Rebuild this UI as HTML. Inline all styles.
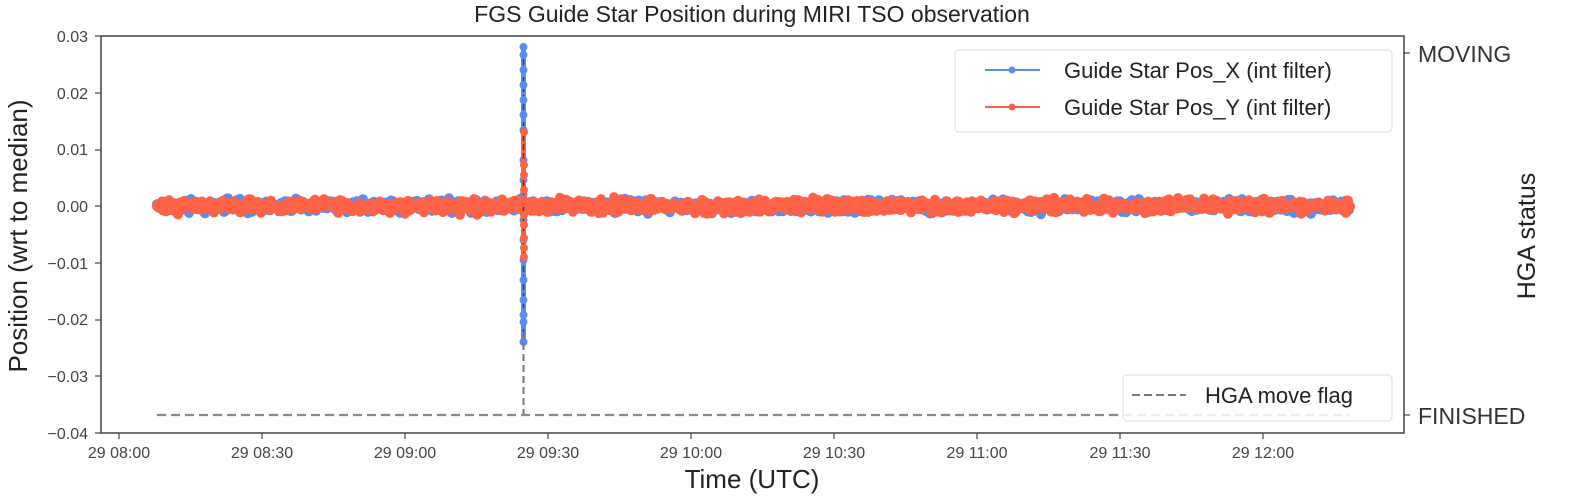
<!DOCTYPE html>
<html><head><meta charset="utf-8"><style>
html,body{margin:0;padding:0;background:#fff;}
svg{display:block;font-family:"Liberation Sans",sans-serif;}
</style></head><body>
<svg id="s" width="1570" height="501" xmlns="http://www.w3.org/2000/svg">
<rect width="1570" height="501" fill="#fff"/>
<text x="752" y="22" font-size="23" text-anchor="middle" fill="#222">FGS Guide Star Position during MIRI TSO observation</text>
<g id="data"></g>
<line x1="523.5" y1="416" x2="523.5" y2="330" stroke="#777" stroke-width="2" stroke-dasharray="7,4"/>
<line x1="157" y1="415" x2="1350" y2="415" stroke="#888" stroke-width="2.2" stroke-dasharray="9,5"/>
<rect x="101" y="36" width="1303" height="397" fill="none" stroke="#444" stroke-width="1.5"/>
<g font-size="16" fill="#444" text-anchor="end">
<text x="88" y="42">0.03</text><text x="88" y="99">0.02</text><text x="88" y="155">0.01</text>
<text x="88" y="212">0.00</text><text x="88" y="269">−0.01</text><text x="88" y="325">−0.02</text>
<text x="88" y="382">−0.03</text><text x="88" y="439">−0.04</text>
</g>
<g stroke="#444" stroke-width="1.2">
<line x1="95" y1="36" x2="101" y2="36"/><line x1="95" y1="93" x2="101" y2="93"/><line x1="95" y1="150" x2="101" y2="150"/><line x1="95" y1="206" x2="101" y2="206"/><line x1="95" y1="263" x2="101" y2="263"/><line x1="95" y1="320" x2="101" y2="320"/><line x1="95" y1="376" x2="101" y2="376"/><line x1="95" y1="433" x2="101" y2="433"/>
<line x1="1404" y1="53" x2="1410" y2="53"/><line x1="1404" y1="415" x2="1410" y2="415"/>
</g>
<g id="xt" font-size="16" fill="#444" text-anchor="middle"></g>
<g font-size="23" fill="#333">
<text x="1418" y="62">MOVING</text><text x="1418" y="424">FINISHED</text>
</g>
<text transform="translate(1535,236) rotate(-90)" font-size="25" text-anchor="middle" fill="#222">HGA status</text>
<text transform="translate(27,236) rotate(-90)" font-size="26" text-anchor="middle" fill="#222">Position (wrt to median)</text>
<text x="752" y="488" font-size="26" text-anchor="middle" fill="#222">Time (UTC)</text>
<rect x="955" y="50" width="437" height="82" rx="4" fill="#fff" fill-opacity="0.85" stroke="#ddd"/>
<line x1="985" y1="70" x2="1040" y2="70" stroke="#5b8def" stroke-width="2"/><circle cx="1012" cy="70" r="3.5" fill="#5b8def"/>
<line x1="985" y1="107" x2="1040" y2="107" stroke="#ff6347" stroke-width="2"/><circle cx="1012" cy="107" r="3.5" fill="#ff6347"/>
<g font-size="22" fill="#222"><text x="1064" y="78">Guide Star Pos_X (int filter)</text><text x="1064" y="115">Guide Star Pos_Y (int filter)</text></g>
<rect x="1123" y="375" width="269" height="46" rx="4" fill="#fff" fill-opacity="0.85" stroke="#ddd"/>
<line x1="1132" y1="395" x2="1186" y2="395" stroke="#777" stroke-width="2" stroke-dasharray="8,4"/>
<text x="1205" y="403" font-size="22" fill="#222">HGA move flag</text>
</svg>
<script>
var d=document.getElementById('data'),h='';
var seed=7;function r(){seed=(seed*16807)%2147483647;return seed/2147483647;}
function g(){return (r()+r()+r()-1.5);}
for(var x=157;x<=1350;x+=1){var y=206+g()*6;h+='<circle cx="'+x.toFixed(1)+'" cy="'+y.toFixed(1)+'" r="5" fill="#5b8def"/>';}
h+='<line x1="523.5" y1="47" x2="523.5" y2="342" stroke="#5b8def" stroke-width="5"/>';
h+='<line x1="523.5" y1="50" x2="523.5" y2="340" stroke="#1f3f8f" stroke-width="1.5" stroke-dasharray="6,3"/>';
[47,55,70,85,100,115,130,160,180,195,220,240,260,280,300,315,322,342].forEach(function(y){h+='<circle cx="523.5" cy="'+y+'" r="4" fill="#5b8def"/>';});
for(var x=157;x<=1350;x+=1){var y=206+g()*6.5;h+='<circle cx="'+x.toFixed(1)+'" cy="'+y.toFixed(1)+'" r="5" fill="#ff6347"/>';}
h+='<line x1="523.5" y1="132" x2="523.5" y2="257" stroke="#ff6347" stroke-width="5"/>';
h+='<line x1="523.5" y1="135" x2="523.5" y2="255" stroke="#6a2b20" stroke-width="1.5" stroke-dasharray="6,3"/>';
[132,165,175,190,200,215,225,238,248,257].forEach(function(y){h+='<circle cx="524" cy="'+y+'" r="4" fill="#ff6347"/>';});
d.innerHTML=h;
var t=['29 08:00','29 08:30','29 09:00','29 09:30','29 10:00','29 10:30','29 11:00','29 11:30','29 12:00'],xt='';
for(var i=0;i<9;i++){var x=119+i*143;xt+='<line x1="'+x+'" y1="433" x2="'+x+'" y2="439" stroke="#444" stroke-width="1.2"/><text x="'+x+'" y="458">'+t[i]+'</text>';}
document.getElementById('xt').innerHTML=xt;
</script>
</body></html>
